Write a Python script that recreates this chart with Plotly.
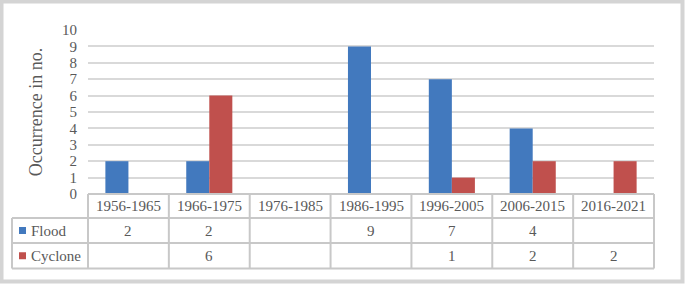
import plotly.graph_objects as go

categories = ["1956-1965", "1966-1975", "1976-1985", "1986-1995", "1996-2005", "2006-2015", "2016-2021"]
flood = [2, 2, None, 9, 7, 4, None]
cyclone = [None, 6, None, None, 1, 2, 2]
series_names = ["Flood", "Cyclone"]
colors = ["#4279BE", "#C0504D"]
y_ticks = list(range(0, 11))

W, H = 685, 284
L, R, T, B = 88, 31, 30, 90
pw, ph = W - L - R, H - T - B

def py(pix):  # pixel y -> paper y
    return (H - B - pix) / ph

def px(pix):
    return (pix - L) / pw

FONT = "Liberation Serif, Times New Roman, DejaVu Serif, serif"
TXT = "#595959"
GRID = "#D9D9D9"
BORDER = "#C8C8C8"

fig = go.Figure()
for name, vals, c in zip(series_names, [flood, cyclone], colors):
    fig.add_trace(go.Bar(x=categories, y=vals, name=name, marker=dict(color=c, line=dict(width=0)),
                         hoverinfo="x+y+name"))

n = len(categories)
shapes = []
annotations = []

row_b = [H - B, 218, 243, 268.5]
row_c = [(row_b[i] + row_b[i + 1]) / 2 for i in range(3)]
left_x = px(12)

for i, yb in enumerate(row_b):
    x0 = 0 if i == 0 else left_x
    shapes.append(dict(type="line", xref="paper", yref="paper", x0=x0, x1=1, y0=py(yb), y1=py(yb),
                       line=dict(color=BORDER, width=2)))
for j in range(n + 1):
    shapes.append(dict(type="line", xref="paper", yref="paper", x0=j / n, x1=j / n,
                       y0=py(row_b[0]), y1=py(row_b[3]), line=dict(color=BORDER, width=2)))
shapes.append(dict(type="line", xref="paper", yref="paper", x0=left_x, x1=left_x,
                   y0=py(row_b[1]), y1=py(row_b[3]), line=dict(color=BORDER, width=2)))

for cat in categories:
    annotations.append(dict(x=cat, xref="x", y=py(row_c[0]), yref="paper", text=cat, showarrow=False,
                            font=dict(family=FONT, size=15, color=TXT), xanchor="center", yanchor="middle"))
for r, (name, vals, c) in enumerate(zip(series_names, [flood, cyclone], colors)):
    yc = py(row_c[r + 1])
    for cat, v in zip(categories, vals):
        if v is not None:
            annotations.append(dict(x=cat, xref="x", y=yc, yref="paper", text=str(v), showarrow=False,
                                    font=dict(family=FONT, size=15, color=TXT), xanchor="center", yanchor="middle"))
    shapes.append(dict(type="rect", xref="paper", yref="paper", x0=px(19), x1=px(26),
                       y0=py(row_c[r + 1] - 3.5), y1=py(row_c[r + 1] + 3.5),
                       fillcolor=c, line=dict(width=0)))
    annotations.append(dict(x=px(29), xref="paper", y=yc, yref="paper", text=name, showarrow=False,
                            font=dict(family=FONT, size=15, color=TXT), xanchor="left", yanchor="middle"))

shapes.append(dict(type="rect", xref="paper", yref="paper", x0=px(1.5), x1=px(W - 2.5),
                   y0=py(H - 2.5), y1=py(1.5), line=dict(color="#D4D4D4", width=4), layer="below"))

fig.update_layout(
    width=W, height=H,
    margin=dict(l=L, r=R, t=T, b=B, pad=0, autoexpand=False),
    paper_bgcolor="white", plot_bgcolor="white",
    barmode="group", bargap=0.43, bargroupgap=0,
    showlegend=False,
    font=dict(family=FONT, color=TXT),
    xaxis=dict(showticklabels=False, ticks="", showgrid=False, zeroline=False, showline=False,
               categoryorder="array", categoryarray=categories),
    yaxis=dict(range=[0, 10], tickvals=y_ticks, showgrid=True, gridcolor=GRID, gridwidth=2,
               zeroline=False, showline=False, ticks="", ticklabelstandoff=10,
               tickfont=dict(family=FONT, size=15, color=TXT),
               title=dict(text="Occurrence in no.", font=dict(family=FONT, size=18, color=TXT), standoff=14)),
    shapes=shapes,
    annotations=annotations,
)

fig.write_html("out.html", config={"displayModeBar": False},
               post_script="document.body.style.margin='0';document.body.style.padding='0';")
